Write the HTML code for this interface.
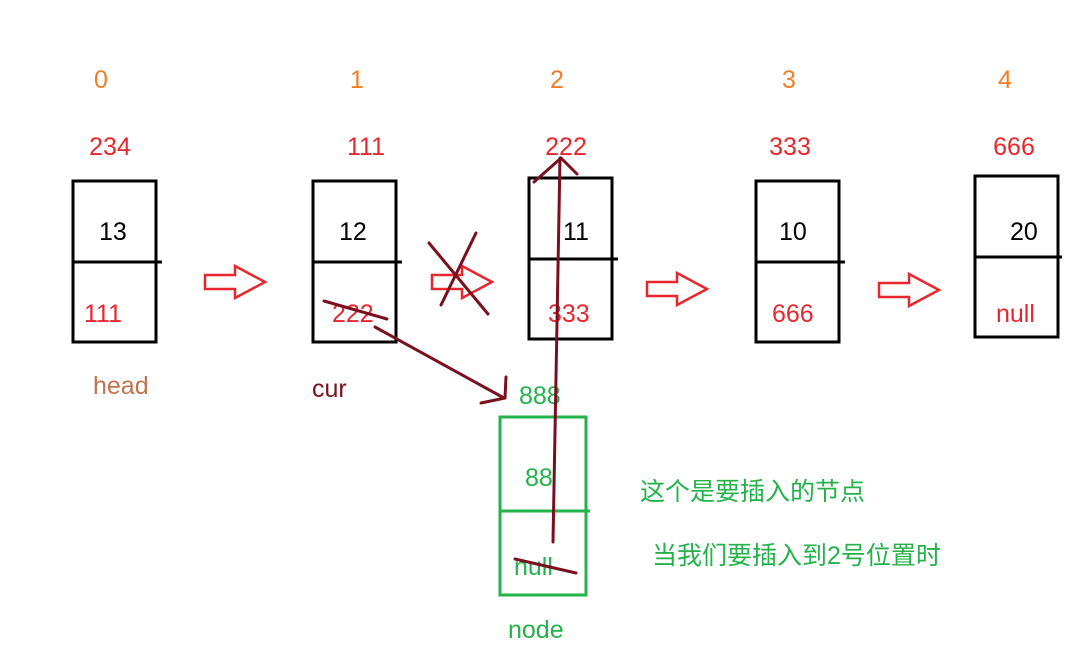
<!DOCTYPE html>
<html><head><meta charset="utf-8"><style>
body{margin:0;background:#fff;width:1075px;height:661px;overflow:hidden}
svg{display:block}
text{font-family:"Liberation Sans","Noto Sans CJK SC",sans-serif;font-size:25px}
.o{fill:#f07f24}.r{fill:#e8262e}.k{fill:#000}.g{fill:#24b24b}
</style></head><body>
<svg width="1075" height="661" viewBox="0 0 1075 661">
<g class="o" text-anchor="middle">
<text x="101" y="88">0</text><text x="357" y="88">1</text><text x="557" y="88">2</text><text x="789" y="88">3</text><text x="1005" y="88">4</text>
</g>
<g class="r" text-anchor="middle">
<text x="110" y="155">234</text><text x="366" y="155">111</text><text x="566" y="155">222</text><text x="790" y="155">333</text><text x="1014" y="155">666</text>
</g>
<g fill="none" stroke="#000" stroke-width="3">
<rect x="73" y="181" width="83" height="161"/><line x1="73" y1="262" x2="162" y2="262"/>
<rect x="313" y="181" width="83" height="161"/><line x1="313" y1="262" x2="402" y2="262"/>
<rect x="529" y="178" width="83" height="161"/><line x1="529" y1="259" x2="618" y2="259"/>
<rect x="756" y="181" width="83" height="161"/><line x1="756" y1="262" x2="845" y2="262"/>
<rect x="975" y="176" width="83" height="161"/><line x1="975" y1="257" x2="1062" y2="257"/>
</g>
<g class="k">
<text x="99" y="240">13</text><text x="339" y="240">12</text><text x="563" y="240">11</text><text x="779" y="240">10</text><text x="1010" y="240">20</text>
</g>
<g class="r">
<text x="84" y="322">111</text><text x="332" y="322">222</text><text x="548" y="322">333</text><text x="772" y="322">666</text><text x="996" y="322">null</text>
</g>
<g fill="none" stroke="#e8262e" stroke-width="2.5">
<path d="M205 275h30v-9l30 16-30 16v-9h-30z"/>
<path d="M432 275h30v-9l30 16-30 16v-9h-30z"/>
<path d="M647 282h30v-9l30 16-30 16v-9h-30z"/>
<path d="M879 283h30v-9l30 16-30 16v-9h-30z"/>
</g>
<text x="93" y="394" fill="#c0744e">head</text>
<text x="312" y="397" fill="#7a0f1e">cur</text>
<g fill="none" stroke="#24b24b" stroke-width="3">
<rect x="500" y="417" width="86" height="178"/><line x1="500" y1="511" x2="590" y2="511"/>
</g>
<g class="g">
<text x="519" y="404">888</text><text x="525" y="486">88</text><text x="514" y="575">null</text>
<text x="508" y="638">node</text>
<text x="640" y="500" font-size="24">这个是要插入的节点</text>
<text x="652" y="564" font-size="24">当我们要插入到2号位置时</text>
</g>
<g fill="none" stroke="#7a0f1e" stroke-width="3" stroke-linecap="round">
<line x1="324" y1="301" x2="387" y2="319"/>
<line x1="375" y1="327" x2="504" y2="398"/>
<path d="M506 377l-1 21-24 5"/>
<line x1="429" y1="243" x2="488" y2="314"/>
<line x1="441" y1="305" x2="476" y2="233"/>
<line x1="553" y1="542" x2="560" y2="158"/>
<path d="M534 182l27-24 16 16"/>
<line x1="515" y1="559" x2="576" y2="573"/>
</g>
</svg>
</body></html>
